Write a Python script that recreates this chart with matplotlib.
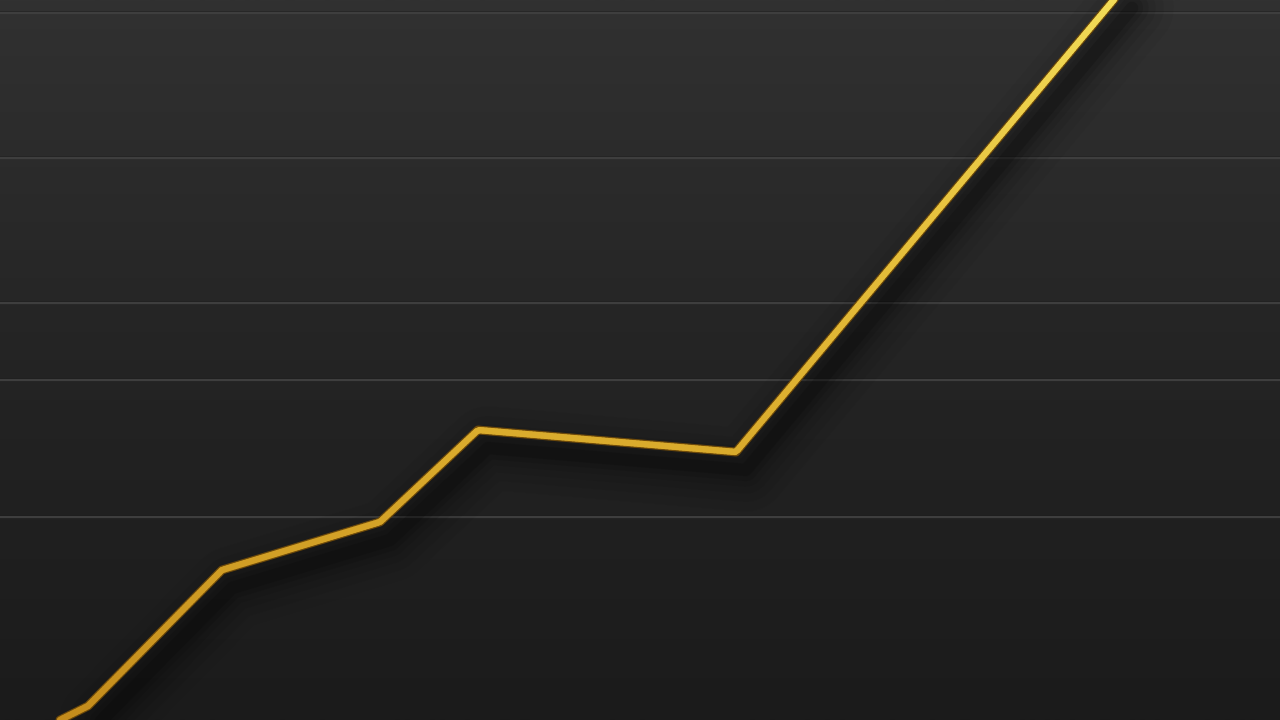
import numpy as np
import matplotlib
matplotlib.use("Agg")
import matplotlib.pyplot as plt
from matplotlib.collections import LineCollection
from matplotlib.colors import LinearSegmentedColormap

# Données (repère 0..1280 x 0..720)
x_vals = [60, 88, 222, 380, 478, 736, 1122]
y_vals = [0, 14, 150, 198, 290, 268, 730]
grid_y = [707, 562, 417, 340, 203]

fig = plt.figure(figsize=(12.8, 7.2), dpi=100)
ax = fig.add_axes([0, 0, 1, 1])
ax.set_xlim(0, 1280)
ax.set_ylim(0, 720)
ax.axis("off")

# Fond en dégradé vertical
bg = LinearSegmentedColormap.from_list("bg", ["#1b1b1b", "#242424", "#313131"])
grad = np.linspace(0, 1, 256).reshape(-1, 1)
ax.imshow(grad, extent=[0, 1280, 0, 720], origin="lower", cmap=bg, aspect="auto", zorder=0)

# Lignes horizontales
for gy in grid_y:
    ax.axhline(gy + 1.5, color="#161616", lw=1.2, alpha=0.5, zorder=1)
    ax.axhline(gy, color="#3e3e3e", lw=1.6, zorder=1)

# Ombre portée sous la courbe
xs = np.array(x_vals, dtype=float)
ys = np.array(y_vals, dtype=float)
for w, a in [(60, 0.04), (46, 0.05), (34, 0.07), (24, 0.09), (16, 0.12), (9, 0.18)]:
    ax.plot(xs + 10, ys - 18, color="#050505", lw=w, alpha=a,
            solid_capstyle="round", solid_joinstyle="round", zorder=2)

# Courbe dorée avec dégradé
gold = LinearSegmentedColormap.from_list("gold", ["#c48c1c", "#d8a82a", "#e6c03c", "#f2dc58"])
t = np.linspace(0, 1, 400)
seg_len = np.r_[0, np.cumsum(np.hypot(np.diff(xs), np.diff(ys)))]
px = np.interp(t * seg_len[-1], seg_len, xs)
py = np.interp(t * seg_len[-1], seg_len, ys)
pts = np.column_stack([px, py]).reshape(-1, 1, 2)
segs = np.concatenate([pts[:-1], pts[1:]], axis=1)

ax.plot(xs, ys, color="#6e4a0a", lw=6.4, solid_joinstyle="round",
        solid_capstyle="round", zorder=3)
lc = LineCollection(segs, cmap=gold, linewidths=4.6, capstyle="round", zorder=4)
lc.set_array(py / 720)
ax.add_collection(lc)

fig.savefig("out.png", dpi=100)
